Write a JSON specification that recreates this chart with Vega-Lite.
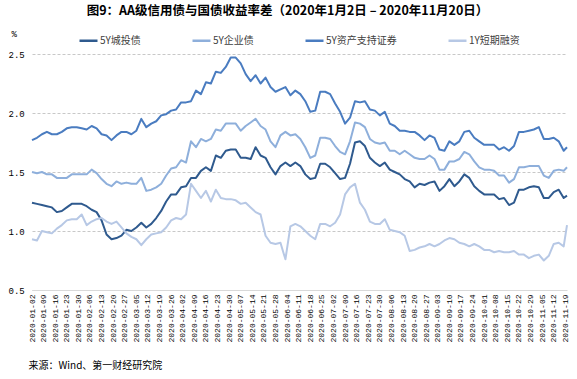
{
  "$schema": "https://vega.github.io/schema/vega-lite/v6.json",
  "width": 535,
  "height": 236,
  "autosize": "none",
  "padding": {"left": 32, "top": 54, "right": 10, "bottom": 89},
  "title": {
    "text": "图9：AA级信用债与国债收益率差（2020年1月2日 – 2020年11月20日）",
    "fontSize": 12.5,
    "fontWeight": "bold",
    "font": "Noto Sans CJK SC",
    "color": "#000000",
    "anchor": "middle",
    "frame": "group",
    "dx": -12,
    "offset": 12
  },
  "data": {
    "values": [
      {"d":"2020-01-02","5Y城投债":1.24,"5Y企业债":1.50,"5Y资产支持证券":1.77,"1Y短期融资":0.93},
      {"d":"2020-01-05","5Y城投债":1.23,"5Y企业债":1.49,"5Y资产支持证券":1.79,"1Y短期融资":0.92},
      {"d":"2020-01-08","5Y城投债":1.22,"5Y企业债":1.50,"5Y资产支持证券":1.82,"1Y短期融资":1.00},
      {"d":"2020-01-11","5Y城投债":1.21,"5Y企业债":1.48,"5Y资产支持证券":1.84,"1Y短期融资":0.99},
      {"d":"2020-01-14","5Y城投债":1.20,"5Y企业债":1.48,"5Y资产支持证券":1.82,"1Y短期融资":0.98},
      {"d":"2020-01-17","5Y城投债":1.16,"5Y企业债":1.45,"5Y资产支持证券":1.82,"1Y短期融资":1.02},
      {"d":"2020-01-20","5Y城投债":1.17,"5Y企业债":1.45,"5Y资产支持证券":1.84,"1Y短期融资":1.05},
      {"d":"2020-01-23","5Y城投债":1.20,"5Y企业债":1.45,"5Y资产支持证券":1.87,"1Y短期融资":1.09},
      {"d":"2020-01-26","5Y城投债":1.23,"5Y企业债":1.48,"5Y资产支持证券":1.88,"1Y短期融资":1.10},
      {"d":"2020-01-29","5Y城投债":1.23,"5Y企业债":1.48,"5Y资产支持证券":1.88,"1Y短期融资":1.10},
      {"d":"2020-02-01","5Y城投债":1.23,"5Y企业债":1.48,"5Y资产支持证券":1.87,"1Y短期融资":1.14},
      {"d":"2020-02-04","5Y城投债":1.21,"5Y企业债":1.48,"5Y资产支持证券":1.86,"1Y短期融资":1.05},
      {"d":"2020-02-07","5Y城投债":1.18,"5Y企业债":1.52,"5Y资产支持证券":1.89,"1Y短期融资":1.08},
      {"d":"2020-02-10","5Y城投债":1.16,"5Y企业债":1.49,"5Y资产支持证券":1.87,"1Y短期融资":1.10},
      {"d":"2020-02-13","5Y城投债":1.09,"5Y企业债":1.44,"5Y资产支持证券":1.82,"1Y短期融资":1.11},
      {"d":"2020-02-16","5Y城投债":0.97,"5Y企业债":1.40,"5Y资产支持证券":1.81,"1Y短期融资":1.08},
      {"d":"2020-02-19","5Y城投债":0.93,"5Y企业债":1.38,"5Y资产支持证券":1.77,"1Y短期融资":1.06},
      {"d":"2020-02-22","5Y城投债":0.94,"5Y企业债":1.42,"5Y资产支持证券":1.81,"1Y短期融资":1.08},
      {"d":"2020-02-25","5Y城投债":0.96,"5Y企业债":1.40,"5Y资产支持证券":1.84,"1Y短期融资":1.03},
      {"d":"2020-02-28","5Y城投债":1.01,"5Y企业债":1.41,"5Y资产支持证券":1.84,"1Y短期融资":0.98},
      {"d":"2020-03-02","5Y城投债":1.00,"5Y企业债":1.40,"5Y资产支持证券":1.82,"1Y短期融资":0.95},
      {"d":"2020-03-05","5Y城投债":1.03,"5Y企业债":1.40,"5Y资产支持证券":1.85,"1Y短期融资":0.93},
      {"d":"2020-03-08","5Y城投债":1.07,"5Y企业债":1.45,"5Y资产支持证券":1.95,"1Y短期融资":0.88},
      {"d":"2020-03-11","5Y城投债":1.03,"5Y企业债":1.34,"5Y资产支持证券":1.88,"1Y短期融资":0.93},
      {"d":"2020-03-14","5Y城投债":1.06,"5Y企业债":1.35,"5Y资产支持证券":1.91,"1Y短期融资":0.97},
      {"d":"2020-03-17","5Y城投债":1.11,"5Y企业债":1.37,"5Y资产支持证券":1.93,"1Y短期融资":0.98},
      {"d":"2020-03-20","5Y城投债":1.17,"5Y企业债":1.40,"5Y资产支持证券":1.98,"1Y短期融资":0.99},
      {"d":"2020-03-23","5Y城投债":1.25,"5Y企业债":1.47,"5Y资产支持证券":1.99,"1Y短期融资":1.03},
      {"d":"2020-03-26","5Y城投债":1.31,"5Y企业债":1.53,"5Y资产支持证券":2.02,"1Y短期融资":1.09},
      {"d":"2020-03-29","5Y城投债":1.31,"5Y企业债":1.54,"5Y资产支持证券":2.03,"1Y短期融资":1.11},
      {"d":"2020-04-01","5Y城投债":1.37,"5Y企业债":1.60,"5Y资产支持证券":2.09,"1Y短期融资":1.10},
      {"d":"2020-04-04","5Y城投债":1.38,"5Y企业债":1.58,"5Y资产支持证券":2.09,"1Y短期融资":1.14},
      {"d":"2020-04-07","5Y城投债":1.45,"5Y企业债":1.76,"5Y资产支持证券":2.10,"1Y短期融资":1.40},
      {"d":"2020-04-10","5Y城投债":1.45,"5Y企业债":1.71,"5Y资产支持证券":2.19,"1Y短期融资":1.34},
      {"d":"2020-04-13","5Y城投债":1.51,"5Y企业债":1.78,"5Y资产支持证券":2.16,"1Y短期融资":1.28},
      {"d":"2020-04-16","5Y城投债":1.54,"5Y企业债":1.76,"5Y资产支持证券":2.26,"1Y短期融资":1.34},
      {"d":"2020-04-19","5Y城投债":1.51,"5Y企业债":1.78,"5Y资产支持证券":2.25,"1Y短期融资":1.25},
      {"d":"2020-04-22","5Y城投债":1.64,"5Y企业债":1.86,"5Y资产支持证券":2.35,"1Y短期融资":1.35},
      {"d":"2020-04-25","5Y城投债":1.62,"5Y企业债":1.85,"5Y资产支持证券":2.34,"1Y短期融资":1.28},
      {"d":"2020-04-28","5Y城投债":1.68,"5Y企业债":1.91,"5Y资产支持证券":2.39,"1Y短期融资":1.27},
      {"d":"2020-05-01","5Y城投债":1.69,"5Y企业债":1.91,"5Y资产支持证券":2.47,"1Y短期融资":1.27},
      {"d":"2020-05-04","5Y城投债":1.69,"5Y企业债":1.91,"5Y资产支持证券":2.47,"1Y短期融资":1.26},
      {"d":"2020-05-07","5Y城投债":1.62,"5Y企业债":1.85,"5Y资产支持证券":2.42,"1Y短期融资":1.23},
      {"d":"2020-05-10","5Y城投债":1.62,"5Y企业债":1.89,"5Y资产支持证券":2.33,"1Y短期融资":1.24},
      {"d":"2020-05-13","5Y城投债":1.61,"5Y企业债":1.92,"5Y资产支持证券":2.27,"1Y短期融资":1.20},
      {"d":"2020-05-16","5Y城投债":1.71,"5Y企业债":1.95,"5Y资产支持证券":2.32,"1Y短期融资":1.16},
      {"d":"2020-05-19","5Y城投债":1.64,"5Y企业债":1.89,"5Y资产支持证券":2.25,"1Y短期融资":1.14},
      {"d":"2020-05-22","5Y城投债":1.62,"5Y企业债":1.86,"5Y资产支持证券":2.30,"1Y短期融资":0.96},
      {"d":"2020-05-25","5Y城投债":1.54,"5Y企业债":1.76,"5Y资产支持证券":2.22,"1Y短期融资":0.90},
      {"d":"2020-05-28","5Y城投债":1.48,"5Y企业债":1.71,"5Y资产支持证券":2.18,"1Y短期融资":0.89},
      {"d":"2020-05-31","5Y城投债":1.55,"5Y企业债":1.81,"5Y资产支持证券":2.20,"1Y短期融资":0.90},
      {"d":"2020-06-03","5Y城投债":1.58,"5Y企业债":1.84,"5Y资产支持证券":2.22,"1Y短期融资":0.76},
      {"d":"2020-06-06","5Y城投债":1.55,"5Y企业债":1.81,"5Y资产支持证券":2.15,"1Y短期融资":1.04},
      {"d":"2020-06-09","5Y城投债":1.58,"5Y企业债":1.82,"5Y资产支持证券":2.19,"1Y短期融资":1.06},
      {"d":"2020-06-12","5Y城投债":1.55,"5Y企业债":1.78,"5Y资产支持证券":2.16,"1Y短期融资":1.04},
      {"d":"2020-06-15","5Y城投债":1.48,"5Y企业债":1.71,"5Y资产支持证券":2.10,"1Y短期融资":1.00},
      {"d":"2020-06-18","5Y城投债":1.44,"5Y企业债":1.62,"5Y资产支持证券":2.01,"1Y短期融资":0.96},
      {"d":"2020-06-21","5Y城投债":1.45,"5Y企业债":1.64,"5Y资产支持证券":2.02,"1Y短期融资":0.93},
      {"d":"2020-06-24","5Y城投债":1.57,"5Y企业债":1.79,"5Y资产支持证券":2.18,"1Y短期融资":1.06},
      {"d":"2020-06-27","5Y城投债":1.57,"5Y企业债":1.79,"5Y资产支持证券":2.18,"1Y短期融资":1.06},
      {"d":"2020-06-30","5Y城投债":1.54,"5Y企业债":1.78,"5Y资产支持证券":2.16,"1Y短期融资":1.04},
      {"d":"2020-07-03","5Y城投债":1.49,"5Y企业债":1.72,"5Y资产支持证券":2.08,"1Y短期融资":1.07},
      {"d":"2020-07-06","5Y城投债":1.44,"5Y企业债":1.67,"5Y资产支持证券":2.01,"1Y短期融资":1.14},
      {"d":"2020-07-09","5Y城投债":1.45,"5Y企业债":1.65,"5Y资产支持证券":1.91,"1Y短期融资":1.31},
      {"d":"2020-07-12","5Y城投债":1.57,"5Y企业债":1.76,"5Y资产支持证券":1.96,"1Y短期融资":1.37},
      {"d":"2020-07-15","5Y城投债":1.75,"5Y企业债":1.92,"5Y资产支持证券":2.10,"1Y短期融资":1.40},
      {"d":"2020-07-18","5Y城投债":1.76,"5Y企业债":1.91,"5Y资产支持证券":2.09,"1Y短期融资":1.24},
      {"d":"2020-07-21","5Y城投债":1.72,"5Y企业债":1.88,"5Y资产支持证券":2.10,"1Y短期融资":1.18},
      {"d":"2020-07-24","5Y城投债":1.62,"5Y企业债":1.78,"5Y资产支持证券":2.03,"1Y短期融资":1.08},
      {"d":"2020-07-27","5Y城投债":1.58,"5Y企业债":1.75,"5Y资产支持证券":2.02,"1Y短期融资":1.06},
      {"d":"2020-07-30","5Y城投债":1.55,"5Y企业债":1.74,"5Y资产支持证券":1.98,"1Y短期融资":1.06},
      {"d":"2020-08-02","5Y城投债":1.58,"5Y企业债":1.75,"5Y资产支持证券":2.01,"1Y短期融资":1.10},
      {"d":"2020-08-05","5Y城投债":1.52,"5Y企业债":1.68,"5Y资产支持证券":1.91,"1Y短期融资":1.01},
      {"d":"2020-08-08","5Y城投债":1.50,"5Y企业债":1.68,"5Y资产支持证券":1.89,"1Y短期融资":1.00},
      {"d":"2020-08-11","5Y城投债":1.48,"5Y企业债":1.65,"5Y资产支持证券":1.85,"1Y短期融资":0.99},
      {"d":"2020-08-14","5Y城投债":1.44,"5Y企业债":1.68,"5Y资产支持证券":1.85,"1Y短期融资":0.96},
      {"d":"2020-08-17","5Y城投债":1.42,"5Y企业债":1.65,"5Y资产支持证券":1.84,"1Y短期融资":0.83},
      {"d":"2020-08-20","5Y城投债":1.37,"5Y企业债":1.62,"5Y资产支持证券":1.84,"1Y短期融资":0.84},
      {"d":"2020-08-23","5Y城投债":1.40,"5Y企业债":1.61,"5Y资产支持证券":1.81,"1Y短期融资":0.86},
      {"d":"2020-08-26","5Y城投债":1.39,"5Y企业债":1.61,"5Y资产支持证券":1.77,"1Y短期融资":0.87},
      {"d":"2020-08-29","5Y城投债":1.41,"5Y企业债":1.64,"5Y资产支持证券":1.81,"1Y短期融资":0.89},
      {"d":"2020-09-01","5Y城投债":1.42,"5Y企业债":1.61,"5Y资产支持证券":1.79,"1Y短期融资":0.87},
      {"d":"2020-09-04","5Y城投债":1.34,"5Y企业债":1.52,"5Y资产支持证券":1.69,"1Y短期融资":0.89},
      {"d":"2020-09-07","5Y城投债":1.38,"5Y企业债":1.52,"5Y资产支持证券":1.68,"1Y短期融资":0.92},
      {"d":"2020-09-10","5Y城投债":1.44,"5Y企业债":1.59,"5Y资产支持证券":1.76,"1Y短期融资":0.94},
      {"d":"2020-09-13","5Y城投债":1.38,"5Y企业债":1.59,"5Y资产支持证券":1.73,"1Y短期融资":0.93},
      {"d":"2020-09-16","5Y城投债":1.42,"5Y企业债":1.61,"5Y资产支持证券":1.76,"1Y短期融资":0.90},
      {"d":"2020-09-19","5Y城投债":1.48,"5Y企业债":1.67,"5Y资产支持证券":1.84,"1Y短期融资":0.89},
      {"d":"2020-09-22","5Y城投债":1.45,"5Y企业债":1.65,"5Y资产支持证券":1.85,"1Y短期融资":0.87},
      {"d":"2020-09-25","5Y城投债":1.38,"5Y企业债":1.59,"5Y资产支持证券":1.79,"1Y短期融资":0.89},
      {"d":"2020-09-28","5Y城投债":1.34,"5Y企业债":1.54,"5Y资产支持证券":1.76,"1Y短期融资":0.87},
      {"d":"2020-10-01","5Y城投债":1.31,"5Y企业债":1.52,"5Y资产支持证券":1.73,"1Y短期融资":0.84},
      {"d":"2020-10-04","5Y城投债":1.31,"5Y企业债":1.52,"5Y资产支持证券":1.73,"1Y短期融资":0.84},
      {"d":"2020-10-07","5Y城投债":1.31,"5Y企业债":1.51,"5Y资产支持证券":1.73,"1Y短期融资":0.82},
      {"d":"2020-10-10","5Y城投债":1.27,"5Y企业债":1.47,"5Y资产支持证券":1.69,"1Y短期融资":0.83},
      {"d":"2020-10-13","5Y城投债":1.28,"5Y企业债":1.47,"5Y资产支持证券":1.71,"1Y短期融资":0.82},
      {"d":"2020-10-16","5Y城投债":1.22,"5Y企业债":1.41,"5Y资产支持证券":1.68,"1Y短期融资":0.82},
      {"d":"2020-10-19","5Y城投债":1.24,"5Y企业债":1.44,"5Y资产支持证券":1.72,"1Y短期融资":0.83},
      {"d":"2020-10-22","5Y城投债":1.35,"5Y企业债":1.54,"5Y资产支持证券":1.84,"1Y短期融资":0.80},
      {"d":"2020-10-25","5Y城投债":1.35,"5Y企业债":1.54,"5Y资产支持证券":1.84,"1Y短期融资":0.80},
      {"d":"2020-10-28","5Y城投债":1.37,"5Y企业债":1.55,"5Y资产支持证券":1.85,"1Y短期融资":0.77},
      {"d":"2020-10-31","5Y城投债":1.38,"5Y企业债":1.55,"5Y资产支持证券":1.86,"1Y短期融资":0.79},
      {"d":"2020-11-03","5Y城投债":1.37,"5Y企业债":1.55,"5Y资产支持证券":1.88,"1Y短期融资":0.80},
      {"d":"2020-11-06","5Y城投债":1.28,"5Y企业债":1.47,"5Y资产支持证券":1.78,"1Y短期融资":0.75},
      {"d":"2020-11-09","5Y城投债":1.28,"5Y企业债":1.45,"5Y资产支持证券":1.78,"1Y短期融资":0.79},
      {"d":"2020-11-12","5Y城投债":1.33,"5Y企业债":1.51,"5Y资产支持证券":1.79,"1Y短期融资":0.89},
      {"d":"2020-11-15","5Y城投债":1.35,"5Y企业债":1.52,"5Y资产支持证券":1.76,"1Y短期融资":0.90},
      {"d":"2020-11-18","5Y城投债":1.28,"5Y企业债":1.51,"5Y资产支持证券":1.68,"1Y短期融资":0.87},
      {"d":"2020-11-20","5Y城投债":1.30,"5Y企业债":1.54,"5Y资产支持证券":1.71,"1Y短期融资":1.05}
    ]
  },
  "transform": [
    {"fold": ["5Y城投债", "5Y企业债", "5Y资产支持证券", "1Y短期融资"], "as": ["series", "value"]}
  ],
  "mark": {"type": "line", "strokeWidth": 2, "strokeJoin": "round"},
  "encoding": {
    "x": {
      "field": "d",
      "type": "temporal",
      "scale": {
        "type": "utc",
        "domain": [{"year": 2020, "month": 1, "date": 2, "utc": true}, {"year": 2020, "month": 11, "date": 20, "utc": true}]
      },
      "axis": {
        "title": "来源：Wind、第一财经研究院",
        "titleFont": "Noto Sans CJK SC",
        "titleFontSize": 10,
        "titleFontWeight": "normal",
        "titleColor": "#000000",
        "titleAnchor": "start",
        "titleAlign": "left",
        "titleBaseline": "middle",
        "titleX": -4,
        "titleY": 75,
        "format": "%Y-%m-%d",
        "formatType": "time",
        "labelAngle": 270,
        "labelAlign": "right",
        "labelBaseline": "middle",
        "labelFont": "Liberation Mono",
        "labelFontSize": 8,
        "labelColor": "#000000",
        "labelPadding": 4,
        "labelOverlap": false,
        "labelFlush": false,
        "ticks": false,
        "grid": false,
        "domainColor": "#d9d9d9",
        "domainWidth": 1,
        "values": [
          {"year":2020,"month":1,"date":2,"utc":true},{"year":2020,"month":1,"date":9,"utc":true},{"year":2020,"month":1,"date":16,"utc":true},{"year":2020,"month":1,"date":23,"utc":true},{"year":2020,"month":1,"date":30,"utc":true},
          {"year":2020,"month":2,"date":6,"utc":true},{"year":2020,"month":2,"date":13,"utc":true},{"year":2020,"month":2,"date":20,"utc":true},{"year":2020,"month":2,"date":27,"utc":true},
          {"year":2020,"month":3,"date":5,"utc":true},{"year":2020,"month":3,"date":12,"utc":true},{"year":2020,"month":3,"date":19,"utc":true},{"year":2020,"month":3,"date":26,"utc":true},
          {"year":2020,"month":4,"date":2,"utc":true},{"year":2020,"month":4,"date":9,"utc":true},{"year":2020,"month":4,"date":16,"utc":true},{"year":2020,"month":4,"date":23,"utc":true},{"year":2020,"month":4,"date":30,"utc":true},
          {"year":2020,"month":5,"date":7,"utc":true},{"year":2020,"month":5,"date":14,"utc":true},{"year":2020,"month":5,"date":21,"utc":true},{"year":2020,"month":5,"date":28,"utc":true},
          {"year":2020,"month":6,"date":4,"utc":true},{"year":2020,"month":6,"date":11,"utc":true},{"year":2020,"month":6,"date":18,"utc":true},{"year":2020,"month":6,"date":25,"utc":true},
          {"year":2020,"month":7,"date":2,"utc":true},{"year":2020,"month":7,"date":9,"utc":true},{"year":2020,"month":7,"date":16,"utc":true},{"year":2020,"month":7,"date":23,"utc":true},{"year":2020,"month":7,"date":30,"utc":true},
          {"year":2020,"month":8,"date":6,"utc":true},{"year":2020,"month":8,"date":13,"utc":true},{"year":2020,"month":8,"date":20,"utc":true},{"year":2020,"month":8,"date":27,"utc":true},
          {"year":2020,"month":9,"date":3,"utc":true},{"year":2020,"month":9,"date":10,"utc":true},{"year":2020,"month":9,"date":17,"utc":true},{"year":2020,"month":9,"date":24,"utc":true},
          {"year":2020,"month":10,"date":1,"utc":true},{"year":2020,"month":10,"date":8,"utc":true},{"year":2020,"month":10,"date":15,"utc":true},{"year":2020,"month":10,"date":22,"utc":true},{"year":2020,"month":10,"date":29,"utc":true},
          {"year":2020,"month":11,"date":5,"utc":true},{"year":2020,"month":11,"date":12,"utc":true},{"year":2020,"month":11,"date":19,"utc":true}
        ]
      }
    },
    "y": {
      "field": "value",
      "type": "quantitative",
      "scale": {"domain": [0.5, 2.5], "nice": false, "zero": false},
      "axis": {
        "title": "%",
        "titleAngle": 0,
        "titleX": -21,
        "titleY": -21,
        "titleAlign": "left",
        "titleBaseline": "middle",
        "titleFont": "Liberation Mono",
        "titleFontSize": 9,
        "titleFontWeight": "normal",
        "titleColor": "#000000",
        "values": [0.5, 1.0, 1.5, 2.0, 2.5],
        "format": ".1f",
        "labelAlign": "left",
        "labelBaseline": "middle",
        "labelPadding": 24,
        "labelFont": "Liberation Mono",
        "labelFontSize": 9,
        "labelColor": "#000000",
        "ticks": false,
        "domain": false,
        "grid": true,
        "gridColor": "#c8c8c8",
        "gridDash": [3, 2],
        "gridWidth": 1
      }
    },
    "color": {
      "field": "series",
      "type": "nominal",
      "scale": {
        "domain": ["5Y城投债", "5Y企业债", "5Y资产支持证券", "1Y短期融资"],
        "range": ["#2F5A8E", "#8EAFDB", "#4A7CC0", "#B7C8E5"]
      },
      "legend": {
        "title": null,
        "orient": "none",
        "direction": "horizontal",
        "legendX": 46,
        "legendY": -24,
        "symbolType": "stroke",
        "symbolStrokeWidth": 2.5,
        "symbolSize": 324,
        "labelFont": "Noto Sans CJK SC",
        "labelFontSize": 10,
        "labelColor": "#404040",
        "columnPadding": 46,
        "labelOffset": 1
      }
    }
  },
  "config": {
    "view": {"stroke": null},
    "font": "Noto Sans CJK SC"
  }
}
